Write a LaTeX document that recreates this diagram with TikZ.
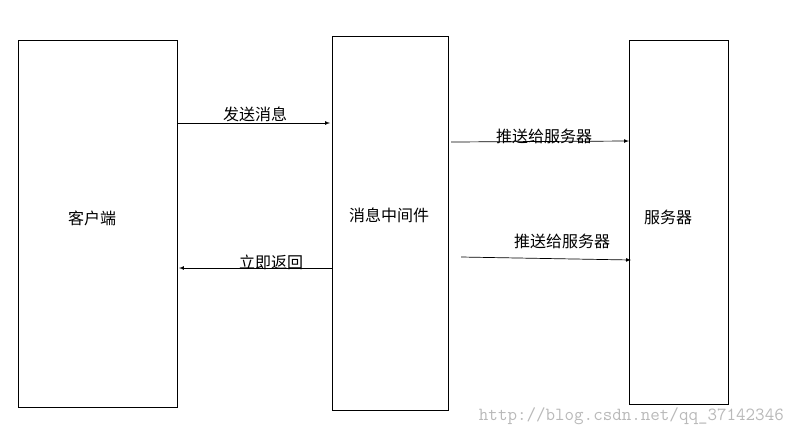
\documentclass[tikz,border=0pt]{standalone}
\usepackage{fontspec}
\newfontfamily\cjk{Noto Sans CJK SC}
\usetikzlibrary{positioning}
\begin{document}
\begin{tikzpicture}[x=1pt,y=-1pt]
\tikzstyle{box_style} = [draw=black, line width=0.7, fill=white]
\tikzstyle{edge_style} = [black, line width=0.7, -latex]
\tikzstyle{label_style} = [font=\cjk\fontsize{16}{18}\selectfont, inner sep=1pt]
\useasboundingbox (0,0) rectangle (794,437);

    \draw[box_style] (18,40) rectangle (177,407);
    \draw[box_style] (332,36) rectangle (448,410);
    \draw[box_style] (629,40) rectangle (728,404);
    \node[label_style] (client) at (92,218) {客户端};
    \node[label_style] (broker) at (389,215) {消息中间件};
    \node[label_style] (server) at (668,217) {服务器};

    \coordinate (c1) at (177,123);
    \coordinate (b1) at (330,123);
    \coordinate (b2) at (451,142);
    \coordinate (s2) at (629,141);
    \coordinate (b3) at (461,257);
    \coordinate (s3) at (631,260);
    \coordinate (b4) at (332,268);
    \coordinate (c4) at (179,268);

    \draw[edge_style] (c1) -- (b1);
    \draw[edge_style] (b2) -- (s2);
    \draw[edge_style] (b3) -- (s3);
    \draw[edge_style] (b4) -- (c4);

    \node[label_style] (l1) at (255,114) {发送消息};
    \node[label_style] (l2) at (544,136) {推送给服务器};
    \node[label_style] (l3) at (562,241) {推送给服务器};
    \node[label_style] (l4) at (271,262) {立即返回};

    \node[font=\ttfamily\fontsize{18.5}{20}\selectfont, text=gray!55, anchor=east, inner sep=0pt] (mark) at (784,416) {http://blog.csdn.net/qq\_37142346};
\end{tikzpicture}
\end{document}
